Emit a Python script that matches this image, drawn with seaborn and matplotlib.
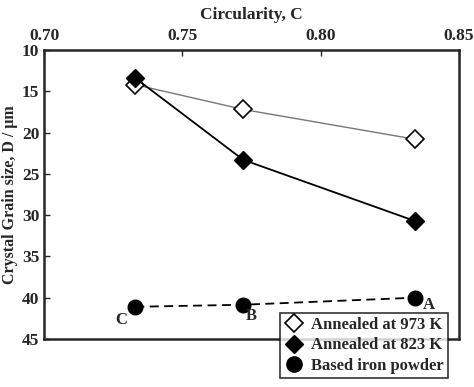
import matplotlib
matplotlib.use("Agg")
import matplotlib.pyplot as plt
import seaborn as sns
import pandas as pd

circularity = [0.733, 0.772, 0.834]
d_973 = [14.2, 17.2, 20.8]
d_823 = [13.4, 23.3, 30.7]
d_powder = [41.1, 40.85, 40.0]
point_labels = ["C", "B", "A"]
series_names = ["Annealed at 973 K", "Annealed at 823 K", "Based iron powder"]
xticks = [0.70, 0.75, 0.80, 0.85]
yticks = [10, 15, 20, 25, 30, 35, 40, 45]

sns.set_style("ticks")
plt.rcParams['font.family'] = ['Liberation Serif', 'DejaVu Serif']
plt.rcParams['font.weight'] = 'bold'

df = pd.DataFrame({
    "C": circularity * 3,
    "D": d_973 + d_823 + d_powder,
    "s": [series_names[0]] * 3 + [series_names[1]] * 3 + [series_names[2]] * 3,
})

fig = plt.figure(figsize=(4.74, 3.87), dpi=100)
ax = fig.add_axes([44 / 474, 1 - 339 / 387, 415 / 474, 289 / 387])

styles = {
    series_names[0]: dict(color="#777777", lw=1.0, ls="-", marker="D", mfc="white", mec="black", ms=9, mew=1.2),
    series_names[1]: dict(color="black", lw=1.3, ls="-", marker="D", mfc="black", mec="black", ms=9, mew=1.0),
    series_names[2]: dict(color="black", lw=1.3, ls=(0, (5, 3)), marker="o", mfc="black", mec="black", ms=10.5, mew=1.0),
}
handles = {}
for name in series_names:
    sub = df[df["s"] == name]
    st = styles[name]
    sns.lineplot(data=sub, x="C", y="D", ax=ax, color=st["color"], lw=st["lw"],
                 linestyle=st["ls"], marker=st["marker"], markerfacecolor=st["mfc"],
                 markeredgecolor=st["mec"], markersize=st["ms"], markeredgewidth=st["mew"],
                 legend=False)
    handles[name] = plt.Line2D([], [], ls="none", marker=st["marker"], mfc=st["mfc"],
                               mec=st["mec"], ms=st["ms"] if name != series_names[2] else 11,
                               mew=st["mew"])

offsets = [(-0.005, 1.6), (0.003, 1.4), (0.005, 0.9)]
for x, y, t, (dx, dy) in zip(circularity, d_powder, point_labels, offsets):
    ax.text(x + dx, y + dy, t, ha="center", va="center", fontsize=12, fontweight="bold")

ax.set_xlim(0.70, 0.85)
ax.set_ylim(45, 10)
ax.set_xticks(xticks)
ax.set_xticklabels([f"{v:.2f}" for v in xticks])
ax.set_yticks(yticks)
ax.xaxis.tick_top()
ax.xaxis.set_label_position("top")
ax.tick_params(direction="in", length=4, width=1, labelsize=12.5)
ax.tick_params(axis="x", pad=4)
ax.set_xlabel("Circularity, C", fontsize=12.5, fontweight="bold", labelpad=7)
ax.set_ylabel("Crystal Grain size, D / μm", fontsize=11.5, fontweight="bold", labelpad=3)
for s in ax.spines.values():
    s.set_linewidth(1.8)
    s.set_visible(True)

leg = fig.legend([handles[n] for n in series_names], series_names,
                 loc="lower right", bbox_to_anchor=(456 / 474, 1 / 387),
                 frameon=True, fancybox=False, edgecolor="black", fontsize=12,
                 handletextpad=0.4, borderpad=0.25, labelspacing=0.25, handlelength=1.2)
leg.get_frame().set_linewidth(1.2)
leg.set_zorder(10)

fig.savefig("out.png", dpi=100)
